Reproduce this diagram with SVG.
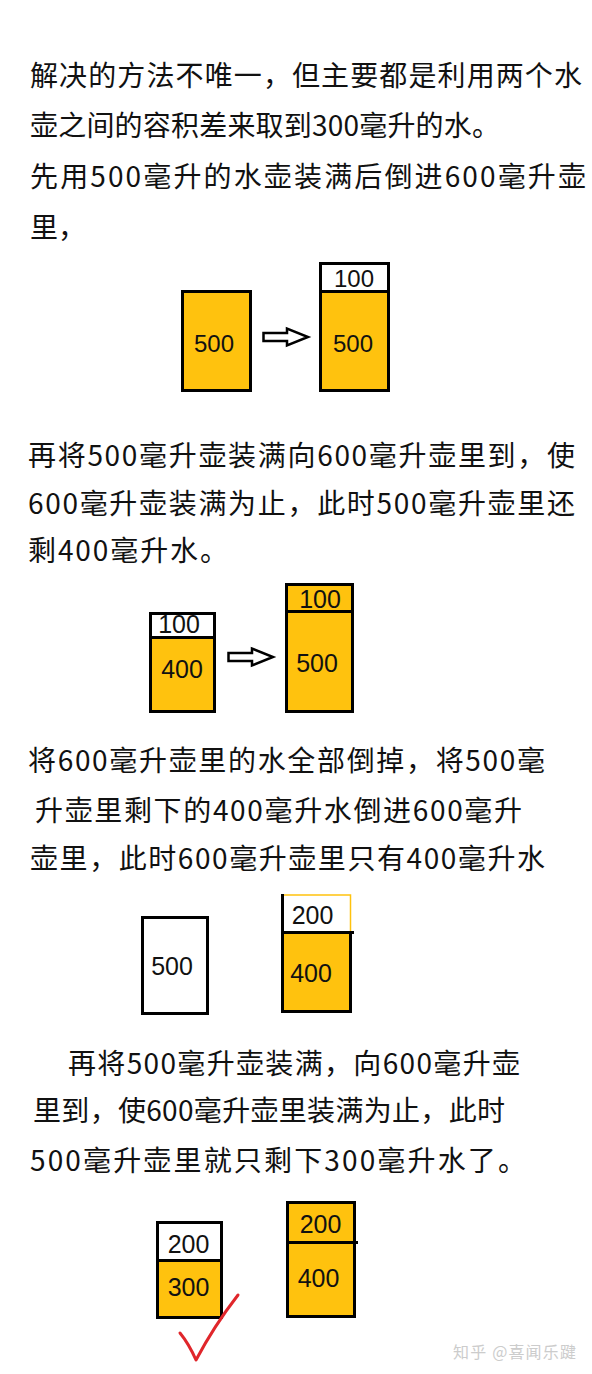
<svg xmlns="http://www.w3.org/2000/svg" width="592" height="1374" viewBox="0 0 592 1374">
<style>
.t{font-family:"Noto Sans CJK SC","Noto Sans",sans-serif;font-size:28px;fill:#111}
.n{font-family:"Liberation Sans",Arial,sans-serif;font-size:24px;fill:#111;text-anchor:middle}
.n2{font-family:"Liberation Sans",Arial,sans-serif;font-size:25px;fill:#111;text-anchor:middle}
.g{fill:#FFC20E;stroke:#000;stroke-width:3}
.w{fill:#fff;stroke:#000;stroke-width:3}
.arr{fill:#fff;stroke:#000;stroke-width:2.5;stroke-linejoin:miter}
.wm{font-family:"Noto Sans CJK SC",sans-serif;font-size:16px;fill:#cccccc}
</style>
<rect width="592" height="1374" fill="#fff"/>
<g id="text1">
<text class="t" x="30" y="86" textLength="552" lengthAdjust="spacing">解决的方法不唯一，但主要都是利用两个水</text>
<text class="t" x="30" y="136" textLength="470" lengthAdjust="spacing">壶之间的容积差来取到300毫升的水。</text>
<text class="t" x="30" y="187" textLength="556" lengthAdjust="spacing">先用500毫升的水壶装满后倒进600毫升壶</text>
<text class="t" x="30" y="238">里，</text>
</g>
<g id="step1-jug500">
<rect class="g" x="182.5" y="291.5" width="68" height="99"/>
<text class="n" x="214" y="352">500</text>
</g>
<g id="step1-jug600">
<rect class="w" x="320.5" y="263.5" width="68" height="28"/>
<rect class="g" x="320.5" y="291.5" width="68" height="99"/>
<text class="n" x="354" y="287">100</text>
<text class="n" x="353" y="352">500</text>
</g>
<g id="text2">
<text class="t" x="28" y="466" textLength="547" lengthAdjust="spacing">再将500毫升壶装满向600毫升壶里到，使</text>
<text class="t" x="28" y="514" textLength="547" lengthAdjust="spacing">600毫升壶装满为止，此时500毫升壶里还</text>
<text class="t" x="28" y="561" textLength="200" lengthAdjust="spacing">剩400毫升水。</text>
</g>
<g id="step2-jug500">
<rect class="w" x="150.5" y="613.5" width="64" height="24"/>
<rect class="g" x="150.5" y="637.5" width="64" height="74"/>
<text class="n2" x="179" y="633">100</text>
<text class="n2" x="182" y="678">400</text>
</g>
<g id="step2-jug600">
<rect class="g" x="286.5" y="584.5" width="66" height="27"/>
<rect class="g" x="286.5" y="611.5" width="66" height="100"/>
<text class="n2" x="320" y="608">100</text>
<text class="n2" x="317" y="672">500</text>
</g>
<g id="text3">
<text class="t" x="28" y="771" textLength="517" lengthAdjust="spacing">将600毫升壶里的水全部倒掉，将500毫</text>
<text class="t" x="35" y="821" textLength="487" lengthAdjust="spacing">升壶里剩下的400毫升水倒进600毫升</text>
<text class="t" x="30" y="869" textLength="515" lengthAdjust="spacing">壶里，此时600毫升壶里只有400毫升水</text>
</g>
<g id="step3-jug500">
<rect class="w" x="142.5" y="917.5" width="65" height="96"/>
<text class="n2" x="172" y="975">500</text>
</g>
<g id="step3-jug600">
<rect x="282.5" y="895" width="68" height="38" fill="#fff" stroke="#FFC20E" stroke-width="1.5"/>
<line x1="282.5" y1="894" x2="282.5" y2="933" stroke="#000" stroke-width="3"/>
<rect class="g" x="282.5" y="932.5" width="68" height="79"/>
<line x1="281" y1="932.5" x2="354" y2="932.5" stroke="#000" stroke-width="3"/>
<text class="n2" x="312.5" y="924">200</text>
<text class="n2" x="311" y="982">400</text>
</g>
<g id="text4">
<text class="t" x="68" y="1074" textLength="452" lengthAdjust="spacing">再将500毫升壶装满，向600毫升壶</text>
<text class="t" x="33" y="1121" textLength="472" lengthAdjust="spacing">里到，使600毫升壶里装满为止，此时</text>
<text class="t" x="30" y="1171" textLength="496" lengthAdjust="spacing">500毫升壶里就只剩下300毫升水了。</text>
</g>
<g id="step4-jug500">
<rect class="w" x="157.5" y="1222.5" width="64" height="38"/>
<rect class="g" x="157.5" y="1260.5" width="64" height="57"/>
<text class="n2" x="188.5" y="1253">200</text>
<text class="n2" x="188.5" y="1296">300</text>
</g>
<g id="step4-jug600">
<rect class="g" x="287.5" y="1202.5" width="67" height="40"/>
<rect class="g" x="287.5" y="1242.5" width="67" height="74"/>
<line x1="286" y1="1242.5" x2="358" y2="1242.5" stroke="#000" stroke-width="3"/>
<text class="n2" x="320.5" y="1233">200</text>
<text class="n2" x="318.5" y="1287">400</text>
</g>
<g id="connectors">
<polygon class="arr" points="263.5,333 287,333 287,328.5 308,337 287,345.5 287,341 263.5,341"/>
<polygon class="arr" points="228.5,653 252,653 252,648.5 273,657 252,665.5 252,661 228.5,661"/>
</g>
<g id="checkmark">
<path d="M180,1333 Q189,1344 196,1360 Q214,1326 238,1295" fill="none" stroke="#e0262b" stroke-width="3" stroke-linecap="round" stroke-linejoin="round"/>
</g>
<g id="watermark">
<text class="wm" x="453" y="1358" textLength="123" lengthAdjust="spacing">知乎 @喜闻乐踺</text>
</g>
</svg>
